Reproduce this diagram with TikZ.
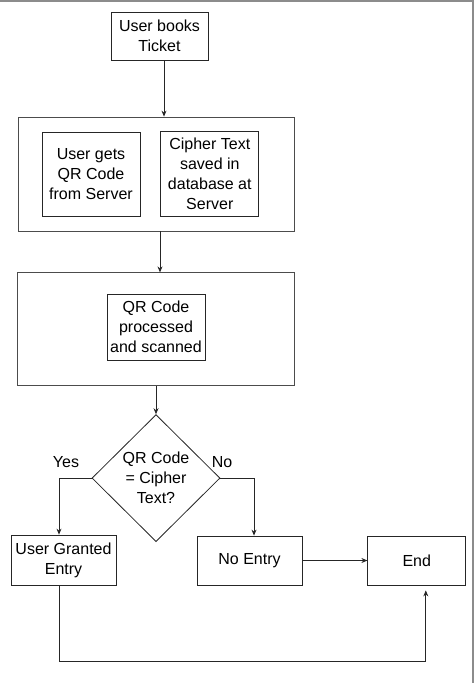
\documentclass[tikz,border=0pt]{standalone}
\usepackage{fontspec}
\setmainfont{Liberation Sans}
\usetikzlibrary{positioning,shapes.geometric,arrows.meta}

\begin{document}
\begin{tikzpicture}[x=1pt,y=1pt,line width=0.8pt,
        step node/.style={draw=black!85,align=center,font=\fontsize{16}{20}\selectfont,
                          inner sep=0pt},
        group node/.style={draw=black!70,inner sep=0pt},
        arr/.style={-{Stealth[length=6pt,width=5pt]},draw=black!85},
        lbl/.style={font=\fontsize{16}{20}\selectfont}]

        \useasboundingbox (0,0) rectangle (474,-683);
        % scan border
        \draw[black!45,line width=2pt] (0,-1) -- (472.5,-1) -- (472.5,-683);

        % Define blocks
        \node[step node,minimum width=97pt,minimum height=48pt] (ticket) at (159.5,-36) {User books\\Ticket};
        \node[group node,minimum width=276pt,minimum height=114pt] (cont1) at (156,-174) {};
        \node[step node,minimum width=98pt,minimum height=84pt] (getqr) at (91,-174) {User gets\\QR Code\\from Server};
        \node[step node,minimum width=98pt,minimum height=85pt] (cipher) [right=20pt of getqr] {Cipher Text\\saved in\\database at\\Server};
        \node[group node,minimum width=277pt,minimum height=113pt] (cont2) [below=41pt of cont1] {};
        \node[step node,minimum width=98pt,minimum height=66pt] (scan) at (156,-327) {QR Code\\processed\\and scanned};
        \node[step node,diamond,minimum width=128pt,minimum height=127pt] (check) [below=28pt of cont2] {QR Code\\= Cipher\\Text?};
        \node[step node,minimum width=105pt,minimum height=50pt] (granted) at (63.5,-560) {User Granted\\Entry};
        \node[step node,minimum width=105pt,minimum height=49pt] (noentry) at (249.5,-560.5) {No Entry};
        \node[step node,minimum width=98pt,minimum height=49pt] (endn) [right=65pt of noentry] {End};

        % Labels
        \node[lbl] (yes) at (66,-462) {Yes};
        \node[lbl] (no) at (222,-462) {No};

        % Draw edges
        \draw[arr] ([xshift=4.5pt]ticket.south) -- ([xshift=4.5pt]ticket.south |- cont1.north);
        \draw[arr] ([xshift=4pt]cont1.south) -- ([xshift=4pt]cont1.south |- cont2.north);
        \draw[arr] (cont2.south) -- (check.north);
        \draw[arr] (check.west) -| ([xshift=-4.5pt]granted.north);
        \draw[arr] (check.east) -| ([xshift=4.5pt]noentry.north);
        \draw[arr] (noentry.east) -- (endn.west);
        \draw[arr] ([xshift=-4.5pt]granted.south) -- ++(0,-76) -| ([xshift=9pt,yshift=-5pt]endn.south);

\end{tikzpicture}
\end{document}
